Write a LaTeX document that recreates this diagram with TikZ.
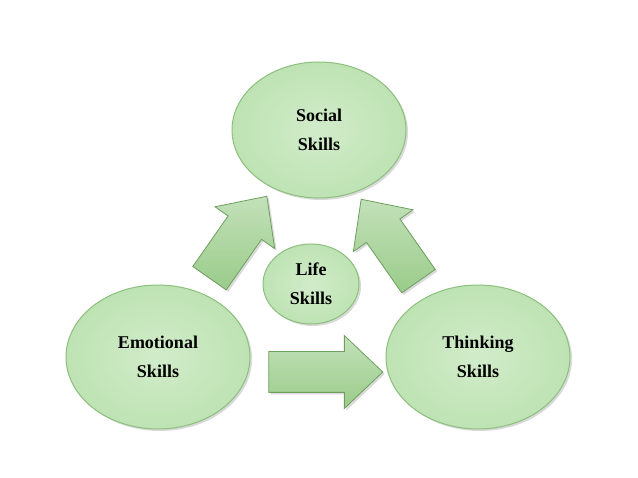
\documentclass[tikz,border=0pt]{standalone}
\usepackage{fontspec}
\setmainfont{Liberation Serif}
\usetikzlibrary{shapes.arrows,shapes.geometric,shadows}
\definecolor{efill}{HTML}{BEE3B3}
\definecolor{edraw}{HTML}{8DBF7E}
\definecolor{afill}{HTML}{9ACC8A}
\definecolor{adraw}{HTML}{6E9E60}
\tikzset{
  skill/.style={ellipse, draw=edraw, line width=1pt, inner color=efill!70!white, outer color=efill, drop shadow={shadow xshift=2pt, shadow yshift=-2pt, opacity=0.3}, font=\bfseries\fontsize{18}{29}\selectfont, align=center, inner sep=0pt},
  bigarrow/.style={single arrow, draw=adraw, line width=0.8pt, top color=afill!60!white, bottom color=afill, inner xsep=0pt, inner ysep=20pt, single arrow head extend=16pt, single arrow tip angle=87, drop shadow={shadow xshift=2pt, shadow yshift=-2pt, opacity=0.3}}
}
\begin{document}
\begin{tikzpicture}[x=1pt,y=-1pt]
\useasboundingbox (0,0) rectangle (638,478);
\node[skill, minimum width=174pt, minimum height=136pt] (social) at (319,130) {Social\\Skills};
\node[skill, minimum width=96pt, minimum height=80pt] (life) at (311,284) {Life\\Skills};
\node[skill, minimum width=184pt, minimum height=144pt] (emo) at (158,357) {Emotional\\Skills};
\node[skill, minimum width=184pt, minimum height=144pt] (think) at (478,357) {Thinking\\Skills};
\node[bigarrow, minimum height=114pt] (a1) at (315,372) {};
\node[bigarrow, minimum height=100pt, rotate=55] (a2) at (232,246) {};
\node[bigarrow, minimum height=100pt, rotate=125] (a3) at (396,249) {};
\end{tikzpicture}
\end{document}
